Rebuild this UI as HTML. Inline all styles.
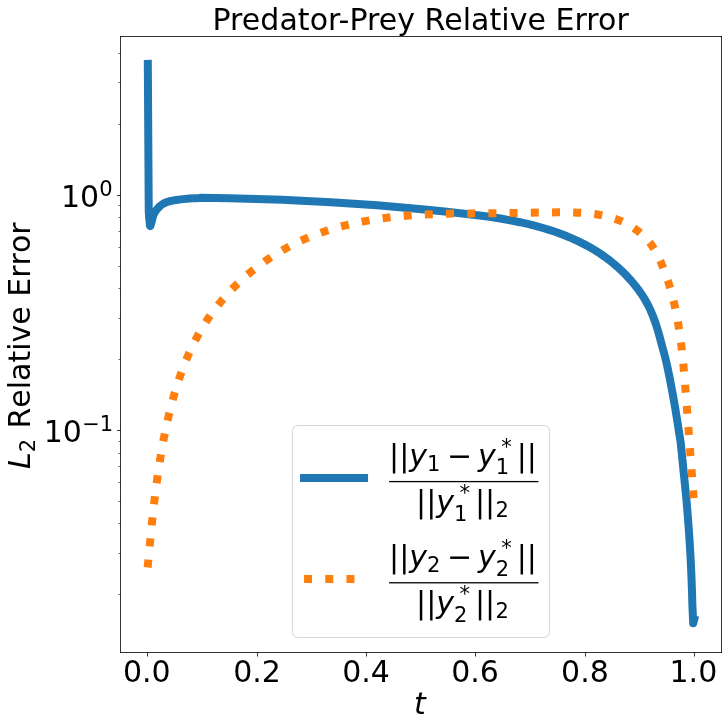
<!DOCTYPE html>
<html lang="en"><head><meta charset="utf-8"><title>Predator-Prey Relative Error</title>
<style>html,body{margin:0;padding:0;background:#fff;}body{width:728px;height:728px;overflow:hidden;font-family:"DejaVu Sans","Liberation Sans",sans-serif;}svg{display:block;}</style>
</head><body>
<svg  width="728" height="728" viewBox="0 0 728 728"  version="1.1">
 
 <defs>
  <style type="text/css">*{stroke-linejoin: round; stroke-linecap: butt}</style>
 </defs>
 <g id="figure_1">
  <g id="patch_1">
   <path d="M 0 728 
L 728 728 
L 728 0 
L 0 0 
z
" style="fill: #ffffff"/>
  </g>
  <g id="axes_1">
   <g id="patch_2">
    <path d="M 120.5 652.5 
L 721.5 652.5 
L 721.5 36.5 
L 120.5 36.5 
z
" style="fill: #ffffff"/>
   </g>
   <g id="matplotlib.axis_1">
    <g id="xtick_1">
     <g id="line2d_1">
      <defs>
       <path id="m6c73e0d0df" d="M 0 0 
L 0 4 
" style="stroke: #000000; stroke-width: 0.8"/>
      </defs>
      <g>
       <use href="#m6c73e0d0df" x="147.5" y="652.5" style="stroke: #000000; stroke-width: 0.8"/>
      </g>
     </g>
     <g id="text_1">
      <text style="font-size: 30px; font-family: 'DejaVu Sans', 'Bitstream Vera Sans', 'Computer Modern Sans Serif', 'Lucida Grande', 'Verdana', 'Geneva', 'Lucid', 'Arial', 'Helvetica', 'Avant Garde', sans-serif; text-anchor: middle" x="146.818" y="681.5">0.0</text>
     </g>
    </g>
    <g id="xtick_2">
     <g id="line2d_2">
      <g>
       <use href="#m6c73e0d0df" x="257.5" y="652.5" style="stroke: #000000; stroke-width: 0.8"/>
      </g>
     </g>
     <g id="text_2">
      <text style="font-size: 30px; font-family: 'DejaVu Sans', 'Bitstream Vera Sans', 'Computer Modern Sans Serif', 'Lucida Grande', 'Verdana', 'Geneva', 'Lucid', 'Arial', 'Helvetica', 'Avant Garde', sans-serif; text-anchor: middle" x="257.091" y="681.5">0.2</text>
     </g>
    </g>
    <g id="xtick_3">
     <g id="line2d_3">
      <g>
       <use href="#m6c73e0d0df" x="366.5" y="652.5" style="stroke: #000000; stroke-width: 0.8"/>
      </g>
     </g>
     <g id="text_3">
      <text style="font-size: 30px; font-family: 'DejaVu Sans', 'Bitstream Vera Sans', 'Computer Modern Sans Serif', 'Lucida Grande', 'Verdana', 'Geneva', 'Lucid', 'Arial', 'Helvetica', 'Avant Garde', sans-serif; text-anchor: middle" x="366.064" y="681.5">0.4</text>
     </g>
    </g>
    <g id="xtick_4">
     <g id="line2d_4">
      <g>
       <use href="#m6c73e0d0df" x="475.5" y="652.5" style="stroke: #000000; stroke-width: 0.8"/>
      </g>
     </g>
     <g id="text_4">
      <text style="font-size: 30px; font-family: 'DejaVu Sans', 'Bitstream Vera Sans', 'Computer Modern Sans Serif', 'Lucida Grande', 'Verdana', 'Geneva', 'Lucid', 'Arial', 'Helvetica', 'Avant Garde', sans-serif; text-anchor: middle" x="475.086" y="681.5">0.6</text>
     </g>
    </g>
    <g id="xtick_5">
     <g id="line2d_5">
      <g>
       <use href="#m6c73e0d0df" x="585.5" y="652.5" style="stroke: #000000; stroke-width: 0.8"/>
      </g>
     </g>
     <g id="text_5">
      <text style="font-size: 30px; font-family: 'DejaVu Sans', 'Bitstream Vera Sans', 'Computer Modern Sans Serif', 'Lucida Grande', 'Verdana', 'Geneva', 'Lucid', 'Arial', 'Helvetica', 'Avant Garde', sans-serif; text-anchor: middle" x="584.909" y="681.5">0.8</text>
     </g>
    </g>
    <g id="xtick_6">
     <g id="line2d_6">
      <g>
       <use href="#m6c73e0d0df" x="694.5" y="652.5" style="stroke: #000000; stroke-width: 0.8"/>
      </g>
     </g>
     <g id="text_6">
      <text style="font-size: 30px; font-family: 'DejaVu Sans', 'Bitstream Vera Sans', 'Computer Modern Sans Serif', 'Lucida Grande', 'Verdana', 'Geneva', 'Lucid', 'Arial', 'Helvetica', 'Avant Garde', sans-serif; text-anchor: middle" x="693.382" y="681.5">1.0</text>
     </g>
    </g>
    <g id="text_7">
     <!-- $t$ -->
     <g transform="translate(413.95625 714.4)">
      <text>
       <tspan x="0" y="-0" style="font-style: oblique; font-size: 30px; font-family: 'DejaVu Sans', sans-serif">t</tspan>
      </text>
     </g>
    </g>
   </g>
   <g id="matplotlib.axis_2">
    <g id="ytick_1">
     <g id="line2d_7">
      <defs>
       <path id="m8b8dede335" d="M 0 0 
L -3.5 0 
" style="stroke: #000000; stroke-width: 0.8"/>
      </defs>
      <g>
       <use href="#m8b8dede335" x="120.5" y="430.5" style="stroke: #000000; stroke-width: 0.8"/>
      </g>
     </g>
     <g id="text_8">
      <!-- $\mathdefault{10^{-1}}$ -->
      <g transform="translate(43.782969 442.75)">
       <text>
       <tspan x="0" y="-0.7" style="font-size: 30px; font-family: 'DejaVu Sans', sans-serif; font-kerning: none">10</tspan>
       <tspan x="38.471328" y="-11.800" style="font-size: 21px; font-family: 'DejaVu Sans', sans-serif">−</tspan>
       <tspan x="56.067031" y="-11.800" style="font-size: 21px; font-family: 'DejaVu Sans', sans-serif">1</tspan>
       </text>
      </g>
     </g>
    </g>
    <g id="ytick_2">
     <g id="line2d_8">
      <g>
       <use href="#m8b8dede335" x="120.5" y="195.5" style="stroke: #000000; stroke-width: 0.8"/>
      </g>
     </g>
     <g id="text_9">
      <!-- $\mathdefault{10^{0}}$ -->
      <g transform="translate(60.878672 207.55)">
       <text>
       <tspan x="0" y="-0.7" style="font-size: 30px; font-family: 'DejaVu Sans', sans-serif; font-kerning: none">10</tspan>
       <tspan x="38.471328" y="-11.800" style="font-size: 21px; font-family: 'DejaVu Sans', sans-serif">0</tspan>
       </text>
      </g>
     </g>
    </g>
    <g id="ytick_3">
     <g id="line2d_9">
      <defs>
       <path id="m40db23cfe2" d="M 0 0 
L -2 0 
" style="stroke: #000000; stroke-width: 0.6"/>
      </defs>
      <g>
       <use href="#m40db23cfe2" x="120.5" y="594.5" style="stroke: #000000; stroke-width: 0.6"/>
      </g>
     </g>
    </g>
    <g id="ytick_4">
     <g id="line2d_10">
      <g>
       <use href="#m40db23cfe2" x="120.5" y="553.5" style="stroke: #000000; stroke-width: 0.6"/>
      </g>
     </g>
    </g>
    <g id="ytick_5">
     <g id="line2d_11">
      <g>
       <use href="#m40db23cfe2" x="120.5" y="523.5" style="stroke: #000000; stroke-width: 0.6"/>
      </g>
     </g>
    </g>
    <g id="ytick_6">
     <g id="line2d_12">
      <g>
       <use href="#m40db23cfe2" x="120.5" y="501.5" style="stroke: #000000; stroke-width: 0.6"/>
      </g>
     </g>
    </g>
    <g id="ytick_7">
     <g id="line2d_13">
      <g>
       <use href="#m40db23cfe2" x="120.5" y="482.5" style="stroke: #000000; stroke-width: 0.6"/>
      </g>
     </g>
    </g>
    <g id="ytick_8">
     <g id="line2d_14">
      <g>
       <use href="#m40db23cfe2" x="120.5" y="466.5" style="stroke: #000000; stroke-width: 0.6"/>
      </g>
     </g>
    </g>
    <g id="ytick_9">
     <g id="line2d_15">
      <g>
       <use href="#m40db23cfe2" x="120.5" y="453.5" style="stroke: #000000; stroke-width: 0.6"/>
      </g>
     </g>
    </g>
    <g id="ytick_10">
     <g id="line2d_16">
      <g>
       <use href="#m40db23cfe2" x="120.5" y="441.5" style="stroke: #000000; stroke-width: 0.6"/>
      </g>
     </g>
    </g>
    <g id="ytick_11">
     <g id="line2d_17">
      <g>
       <use href="#m40db23cfe2" x="120.5" y="359.5" style="stroke: #000000; stroke-width: 0.6"/>
      </g>
     </g>
    </g>
    <g id="ytick_12">
     <g id="line2d_18">
      <g>
       <use href="#m40db23cfe2" x="120.5" y="318.5" style="stroke: #000000; stroke-width: 0.6"/>
      </g>
     </g>
    </g>
    <g id="ytick_13">
     <g id="line2d_19">
      <g>
       <use href="#m40db23cfe2" x="120.5" y="288.5" style="stroke: #000000; stroke-width: 0.6"/>
      </g>
     </g>
    </g>
    <g id="ytick_14">
     <g id="line2d_20">
      <g>
       <use href="#m40db23cfe2" x="120.5" y="266.5" style="stroke: #000000; stroke-width: 0.6"/>
      </g>
     </g>
    </g>
    <g id="ytick_15">
     <g id="line2d_21">
      <g>
       <use href="#m40db23cfe2" x="120.5" y="247.5" style="stroke: #000000; stroke-width: 0.6"/>
      </g>
     </g>
    </g>
    <g id="ytick_16">
     <g id="line2d_22">
      <g>
       <use href="#m40db23cfe2" x="120.5" y="231.5" style="stroke: #000000; stroke-width: 0.6"/>
      </g>
     </g>
    </g>
    <g id="ytick_17">
     <g id="line2d_23">
      <g>
       <use href="#m40db23cfe2" x="120.5" y="217.5" style="stroke: #000000; stroke-width: 0.6"/>
      </g>
     </g>
    </g>
    <g id="ytick_18">
     <g id="line2d_24">
      <g>
       <use href="#m40db23cfe2" x="120.5" y="205.5" style="stroke: #000000; stroke-width: 0.6"/>
      </g>
     </g>
    </g>
    <g id="ytick_19">
     <g id="line2d_25">
      <g>
       <use href="#m40db23cfe2" x="120.5" y="124.5" style="stroke: #000000; stroke-width: 0.6"/>
      </g>
     </g>
    </g>
    <g id="ytick_20">
     <g id="line2d_26">
      <g>
       <use href="#m40db23cfe2" x="120.5" y="82.5" style="stroke: #000000; stroke-width: 0.6"/>
      </g>
     </g>
    </g>
    <g id="ytick_21">
     <g id="line2d_27">
      <g>
       <use href="#m40db23cfe2" x="120.5" y="53.5" style="stroke: #000000; stroke-width: 0.6"/>
      </g>
     </g>
    </g>
    <g id="text_10">
     <!-- $L_2$ Relative Error -->
     <g transform="translate(29.832969 469.039307) rotate(-90)">
      <text>
       <tspan x="0" y="-0" style="font-style: oblique; font-size: 30px; font-family: 'DejaVu Sans', sans-serif">L</tspan>
       <tspan x="16.713867" y="5.1" style="font-size: 21px; font-family: 'DejaVu Sans', sans-serif">2</tspan>
       <tspan x="40.46084" y="-0" style="font-size: 30px; font-family: 'DejaVu Sans', sans-serif; font-kerning: none">Relative Error</tspan>
      </text>
     </g>
    </g>
   </g>
   <g id="line2d_28">
    <path d="M 147.818182 63.9 
L 148.747637 211.82688 
L 149.138112 217.359367 
L 149.998151 225.803293 
L 150.173382 226.11059 
L 150.27003 226.095483 
L 150.481657 225.695897 
L 150.929693 224.186145 
L 153.059437 216.118635 
L 153.851204 214.138691 
L 154.820275 212.221907 
L 155.991921 210.444972 
L 157.604294 208.444843 
L 159.38714 206.610455 
L 161.010906 205.231098 
L 162.784354 204.022405 
L 164.662521 202.982435 
L 166.617452 202.14258 
L 168.669531 201.51847 
L 172.42026 200.638476 
L 176.194342 199.969158 
L 180.85038 199.393134 
L 189.337404 198.567159 
L 196.149392 198.127427 
L 199.998529 198 
L 200.380191 197.674452 
L 229.724228 198.212451 
L 256.59361 198.924905 
L 282.14905 199.821168 
L 306.507776 200.892747 
L 330.734386 202.184618 
L 353.938637 203.645458 
L 377.159291 205.335377 
L 399.490427 207.181654 
L 421.958335 209.261273 
L 444.622575 211.585468 
L 477.479218 215.229872 
L 489.428964 216.839184 
L 500.335444 218.516529 
L 510.187392 220.246324 
L 519.958154 222.21155 
L 528.665506 224.17953 
L 536.324182 226.120014 
L 543.895524 228.250543 
L 551.369051 230.570605 
L 557.819907 232.772071 
L 565.081778 235.533956 
L 571.331315 238.134114 
L 577.475868 240.897194 
L 583.508415 243.850365 
L 589.421936 247.002194 
L 594.379293 249.868371 
L 599.908159 253.395609 
L 604.529432 256.591147 
L 609.037105 259.956441 
L 613.426533 263.496902 
L 618.434636 267.856053 
L 622.685193 271.795779 
L 626.800277 275.936129 
L 630.762986 280.253082 
L 634.556372 284.740116 
L 638.163486 289.390704 
L 641.567382 294.198321 
L 644.226158 298.326077 
L 646.720543 302.645587 
L 648.568543 306.166469 
L 650.663861 310.645572 
L 652.943171 316.028076 
L 654.993013 321.509178 
L 656.842946 327.076581 
L 658.78797 333.654485 
L 662.104912 346.01257 
L 663.458866 350.799899 
L 665.239266 357.529458 
L 667.446438 367.190665 
L 669.864465 378.842198 
L 672.428115 392.488773 
L 675.033966 407.136877 
L 677.434799 421.777283 
L 680.759536 443.227383 
L 686.260974 497.814951 
L 687.911847 517.34575 
L 689.263275 535.935927 
L 690.400118 554.572248 
L 691.319187 573.265669 
L 692.017292 592.027144 
L 692.388431 605.901331 
L 692.401806 605.8 
L 693.201812 623.3 
L 694.201818 619.5 
L 694.201818 619.5 
" clip-path="url(#p7968a6d49b)" style="fill: none; stroke: #1f77b4; stroke-width: 8; stroke-linecap: square"/>
   </g>
   <g id="line2d_29">
    <path d="M 147.623173 567.489628 
L 151.888237 523.459725 
L 154.057436 503.563699 
L 156.026446 487.464596 
L 158.061947 472.635973 
L 160.151319 459.054752 
L 162.266461 446.706185 
L 164.614091 434.345374 
L 166.9505 423.214735 
L 169.228362 413.339736 
L 171.716308 403.505475 
L 174.43436 393.733982 
L 177.017154 385.252734 
L 179.804867 376.851167 
L 182.81091 368.544041 
L 185.57146 361.510001 
L 188.510718 354.565483 
L 191.637131 347.71978 
L 194.959146 340.982186 
L 198.485209 334.361996 
L 202.223768 327.868503 
L 206.183269 321.511001 
L 209.657607 316.32364 
L 213.291717 311.241401 
L 217.080955 306.267184 
L 221.02034 301.403798 
L 225.938789 295.717993 
L 231.057681 290.200693 
L 236.368414 284.856759 
L 241.862386 279.691047 
L 247.530993 274.708416 
L 253.365635 269.913726 
L 259.357708 265.311834 
L 265.498611 260.9076 
L 271.779742 256.705882 
L 278.192498 252.711537 
L 284.728277 248.929426 
L 291.378476 245.364406 
L 298.134495 242.021336 
L 304.987729 238.905075 
L 311.929949 236.018607 
L 318.954718 233.355856 
L 326.05614 230.908013 
L 333.228321 228.666265 
L 340.465367 226.6218 
L 347.761382 224.765809 
L 356.340067 222.826938 
L 364.981631 221.118614 
L 373.676714 219.626844 
L 382.415957 218.337636 
L 392.445726 217.094341 
L 402.506973 216.076455 
L 413.846104 215.174761 
L 425.187495 214.502178 
L 437.76897 213.986533 
L 452.829136 213.617845 
L 472.854126 213.384335 
L 511.530875 212.978478 
L 558.079267 212.361422 
L 569.570772 212.389273 
L 578.499229 212.641716 
L 584.842571 213.017547 
L 591.137841 213.6048 
L 596.127802 214.255577 
L 601.067042 215.090955 
L 605.946689 216.132839 
L 610.757874 217.403137 
L 615.491728 218.923756 
L 620.139368 220.71658 
L 623.560816 222.249457 
L 626.915367 223.942496 
L 630.191349 225.793032 
L 633.377089 227.798399 
L 636.460914 229.955932 
L 639.431151 232.262965 
L 642.276128 234.716833 
L 644.984173 237.31487 
L 647.543611 240.054412 
L 649.942772 242.932793 
L 652.169988 245.947342 
L 654.220918 249.091385 
L 656.112389 252.346656 
L 658.421963 256.824877 
L 660.533637 261.416447 
L 662.967873 267.243477 
L 665.651399 274.305548 
L 668.092593 281.435786 
L 670.30638 288.628966 
L 672.307683 295.879861 
L 674.111428 303.183246 
L 675.986015 311.76323 
L 677.635716 320.399245 
L 679.08423 329.082993 
L 680.523725 339.055078 
L 681.910107 350.319815 
L 683.2202 362.872801 
L 684.566515 377.954253 
L 686.751791 405.53365 
L 690.956117 461.725705 
L 693.706375 498.123104 
L 693.706375 498.123104 
" clip-path="url(#p7968a6d49b)" style="fill: none; stroke-dasharray: 8,13.2; stroke-dashoffset: 0; stroke: #ff7f0e; stroke-width: 8"/>
   </g>
   <g id="patch_3">
    <path d="M 120.5 652.5 
L 120.5 36.5 
" style="fill: none; stroke: #000000; stroke-width: 0.8; stroke-linejoin: miter; stroke-linecap: square"/>
   </g>
   <g id="patch_4">
    <path d="M 721.5 652.5 
L 721.5 36.5 
" style="fill: none; stroke: #000000; stroke-width: 0.8; stroke-linejoin: miter; stroke-linecap: square"/>
   </g>
   <g id="patch_5">
    <path d="M 120.5 652.5 
L 721.5 652.5 
" style="fill: none; stroke: #000000; stroke-width: 0.8; stroke-linejoin: miter; stroke-linecap: square"/>
   </g>
   <g id="patch_6">
    <path d="M 120.5 36.5 
L 721.5 36.5 
" style="fill: none; stroke: #000000; stroke-width: 0.8; stroke-linejoin: miter; stroke-linecap: square"/>
   </g>
   <g id="text_11">
    <text style="font-size: 30px; font-family: 'DejaVu Sans', 'Bitstream Vera Sans', 'Computer Modern Sans Serif', 'Lucida Grande', 'Verdana', 'Geneva', 'Lucid', 'Arial', 'Helvetica', 'Avant Garde', sans-serif; text-anchor: middle" x="420.700" y="29.5" letter-spacing="0.045">Predator-Prey Relative Error</text>
   </g>
   <g id="legend_1">
    <g id="patch_7">
     <path d="M 298.5 637.5 L 543.5 637.5 Q 549.5 637.5 549.5 631.5 L 549.5 431.5 Q 549.5 425.5 543.5 425.5 L 298.5 425.5 Q 292.5 425.5 292.5 431.5 L 292.5 631.5 Q 292.5 637.5 298.5 637.5 z" style="fill: #ffffff; opacity: 0.8; stroke: #cccccc; stroke-linejoin: miter"/>
    </g>
    <g id="line2d_30">
     <path d="M 304.052269 478.0 
L 334.052269 478.0 
L 364.052269 478.0 
" style="fill: none; stroke: #1f77b4; stroke-width: 8; stroke-linecap: square"/>
    </g>
    <g id="text_12">
     <!-- $\dfrac{||y_1 - y_1^*||}{||y_1^*||_2}$ -->
     <g transform="translate(389.052269 489.45625)">
      <text>
       <tspan x="0" y="-23.550" style="font-size: 30px; font-family: 'DejaVu Sans', sans-serif">|</tspan>
       <tspan x="10.107422" y="-23.550" style="font-size: 30px; font-family: 'DejaVu Sans', sans-serif">|</tspan>
       <tspan x="27" y="22.675" style="font-size: 30px; font-family: 'DejaVu Sans', sans-serif">|</tspan>
       <tspan x="37.107422" y="22.675" style="font-size: 30px; font-family: 'DejaVu Sans', sans-serif">|</tspan>
       <tspan x="58.024316" y="-23.550" style="font-size: 30px; font-family: 'DejaVu Sans', sans-serif">−</tspan>
       <tspan x="85.889701" y="22.675" style="font-size: 30px; font-family: 'DejaVu Sans', sans-serif">|</tspan>
       <tspan x="95.997122" y="22.675" style="font-size: 30px; font-family: 'DejaVu Sans', sans-serif">|</tspan>
       <tspan x="127.680618" y="-23.550" style="font-size: 30px; font-family: 'DejaVu Sans', sans-serif">|</tspan>
       <tspan x="137.78804" y="-23.550" style="font-size: 30px; font-family: 'DejaVu Sans', sans-serif">|</tspan>
       <tspan x="20.214844" y="-23.550" style="font-style: oblique; font-size: 30px; font-family: 'DejaVu Sans', sans-serif">y</tspan>
       <tspan x="47.214844" y="22.675" style="font-style: oblique; font-size: 30px; font-family: 'DejaVu Sans', sans-serif">y</tspan>
       <tspan x="89.005762" y="-23.550" style="font-style: oblique; font-size: 30px; font-family: 'DejaVu Sans', sans-serif">y</tspan>
       <tspan x="37.96875" y="-18.450" style="font-size: 21px; font-family: 'DejaVu Sans', sans-serif">1</tspan>
       <tspan x="64.96875" y="31.175" style="font-size: 21px; font-family: 'DejaVu Sans', sans-serif">1</tspan>
       <tspan x="70.448392" y="10.775" style="font-size: 21px; font-family: 'DejaVu Sans', sans-serif">*</tspan>
       <tspan x="106.402044" y="27.775" style="font-size: 21px; font-family: 'DejaVu Sans', sans-serif">2</tspan>
       <tspan x="106.759668" y="-15.050" style="font-size: 21px; font-family: 'DejaVu Sans', sans-serif">1</tspan>
       <tspan x="112.23931" y="-35.450" style="font-size: 21px; font-family: 'DejaVu Sans', sans-serif">*</tspan>
      </text>
      <rect x="0" y="-8.513" width="149.4" height="1.300"/>
     </g>
    </g>
    <g id="line2d_31">
     <path d="M 304.052269 579.0 
L 334.052269 579.0 
L 364.052269 579.0 
" style="fill: none; stroke-dasharray: 8,13.2; stroke-dashoffset: 0; stroke: #ff7f0e; stroke-width: 8"/>
    </g>
    <g id="text_13">
     <!-- $\dfrac{||y_2 - y_2^*||}{||y_2^*||_2}$ -->
     <g transform="translate(389.052269 590.63125)">
      <text>
       <tspan x="0" y="-23.550" style="font-size: 30px; font-family: 'DejaVu Sans', sans-serif">|</tspan>
       <tspan x="10.107422" y="-23.550" style="font-size: 30px; font-family: 'DejaVu Sans', sans-serif">|</tspan>
       <tspan x="27" y="22.675" style="font-size: 30px; font-family: 'DejaVu Sans', sans-serif">|</tspan>
       <tspan x="37.107422" y="22.675" style="font-size: 30px; font-family: 'DejaVu Sans', sans-serif">|</tspan>
       <tspan x="58.024316" y="-23.550" style="font-size: 30px; font-family: 'DejaVu Sans', sans-serif">−</tspan>
       <tspan x="85.889701" y="22.675" style="font-size: 30px; font-family: 'DejaVu Sans', sans-serif">|</tspan>
       <tspan x="95.997122" y="22.675" style="font-size: 30px; font-family: 'DejaVu Sans', sans-serif">|</tspan>
       <tspan x="127.680618" y="-23.550" style="font-size: 30px; font-family: 'DejaVu Sans', sans-serif">|</tspan>
       <tspan x="137.78804" y="-23.550" style="font-size: 30px; font-family: 'DejaVu Sans', sans-serif">|</tspan>
       <tspan x="20.214844" y="-23.550" style="font-style: oblique; font-size: 30px; font-family: 'DejaVu Sans', sans-serif">y</tspan>
       <tspan x="47.214844" y="22.675" style="font-style: oblique; font-size: 30px; font-family: 'DejaVu Sans', sans-serif">y</tspan>
       <tspan x="89.005762" y="-23.550" style="font-style: oblique; font-size: 30px; font-family: 'DejaVu Sans', sans-serif">y</tspan>
       <tspan x="37.96875" y="-18.450" style="font-size: 21px; font-family: 'DejaVu Sans', sans-serif">2</tspan>
       <tspan x="64.96875" y="31.175" style="font-size: 21px; font-family: 'DejaVu Sans', sans-serif">2</tspan>
       <tspan x="70.448392" y="10.775" style="font-size: 21px; font-family: 'DejaVu Sans', sans-serif">*</tspan>
       <tspan x="106.402044" y="27.775" style="font-size: 21px; font-family: 'DejaVu Sans', sans-serif">2</tspan>
       <tspan x="106.759668" y="-15.050" style="font-size: 21px; font-family: 'DejaVu Sans', sans-serif">2</tspan>
       <tspan x="112.23931" y="-35.450" style="font-size: 21px; font-family: 'DejaVu Sans', sans-serif">*</tspan>
      </text>
      <rect x="0" y="-8.513" width="149.4" height="1.300"/>
     </g>
    </g>
   </g>
  </g>
 </g>
 <defs>
  <clipPath id="p7968a6d49b">
   <rect x="120.5" y="36.5" width="601" height="616"/>
  </clipPath>
 </defs>
</svg>

</body></html>
